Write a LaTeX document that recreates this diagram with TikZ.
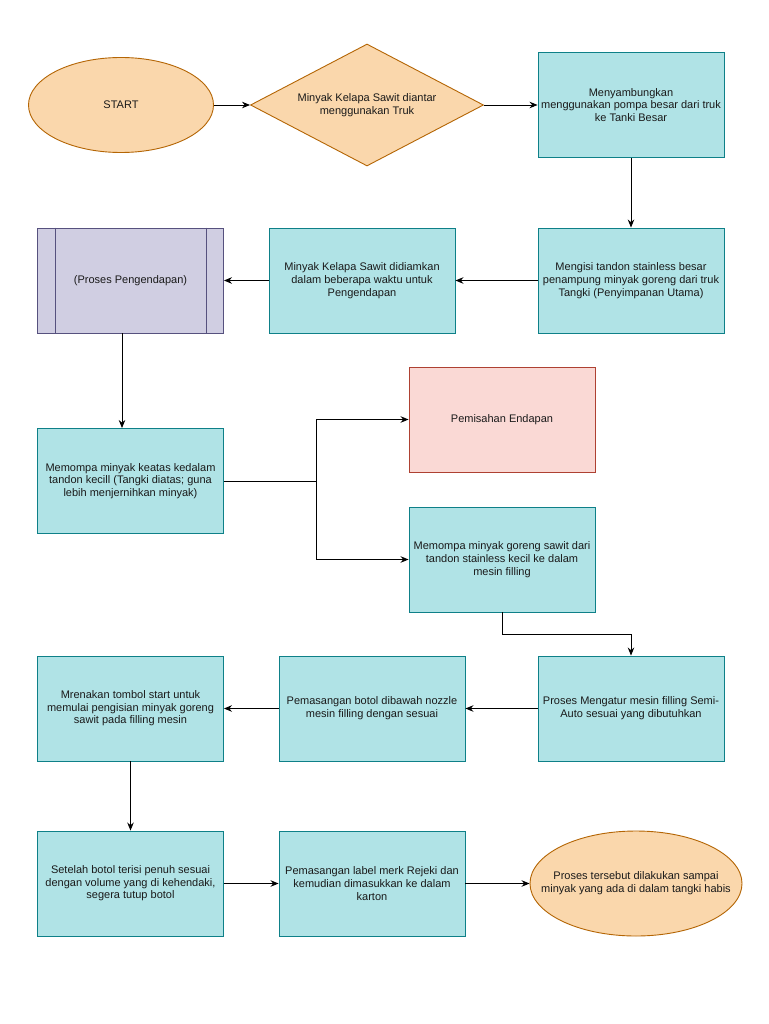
\documentclass[tikz,border=0pt]{standalone}
\usepackage{fontspec}
\setmainfont{Liberation Sans}
\usetikzlibrary{shapes.geometric,arrows.meta}
\definecolor{tealfill}{HTML}{B0E3E6}
\definecolor{tealline}{HTML}{0E8088}
\definecolor{orangefill}{HTML}{FAD7AC}
\definecolor{orangeline}{HTML}{B46504}
\definecolor{pinkfill}{HTML}{FAD9D5}
\definecolor{pinkline}{HTML}{AE4132}
\definecolor{purplefill}{HTML}{D0CEE2}
\definecolor{purpleline}{HTML}{56517E}
\definecolor{txt}{HTML}{1A1A1A}
\tikzset{
  base/.style={font=\fontsize{11}{12.8}\selectfont, text=txt, align=center, inner sep=0pt, line width=0.9pt},
  procbox/.style={base, rectangle, draw=tealline, fill=tealfill, minimum width=186pt, minimum height=105pt},
  endbox/.style={procbox, draw=pinkline, fill=pinkfill},
  subbox/.style={procbox, draw=purpleline, fill=purplefill},
  terminal/.style={base, ellipse, draw=orangeline, fill=orangefill},
  decision/.style={base, diamond, aspect=1.9, draw=orangeline, fill=orangefill, minimum width=233pt, minimum height=122pt},
  arr/.style={-{Stealth[length=8pt,width=6.5pt]}, line width=0.9pt, black}
}
\begin{document}
\begin{tikzpicture}[x=1pt,y=-1pt]
        \fill[white] (0,0) rectangle (768,1024);
        \useasboundingbox (0,0) rectangle (768,1024);
        % first row
        \node[terminal, minimum width=185pt, minimum height=95pt] (start) at (121,105) {START};
        \node[decision] (kirim) at (367,105) {Minyak Kelapa Sawit diantar\\menggunakan Truk};
        \node[procbox] (sambung) at (631,105) {Menyambungkan\\menggunakan pompa besar dari truk\\ke Tanki Besar};
        % second row
        \node[procbox] (tandon) at (631,280.5) {Mengisi tandon stainless besar\\penampung minyak goreng dari truk\\Tangki (Penyimpanan Utama)};
        \node[procbox] (diam) at (362,280.5) {Minyak Kelapa Sawit didiamkan\\dalam beberapa waktu untuk\\Pengendapan};
        \node[subbox] (endap) at (130.5,280.5) {(Proses Pengendapan)};
        \draw[purpleline, line width=0.9pt] ([xshift=18pt]endap.north west) -- ([xshift=18pt]endap.south west);
        \draw[purpleline, line width=0.9pt] ([xshift=-18pt]endap.north east) -- ([xshift=-18pt]endap.south east);
        % middle
        \node[procbox] (keatas) at (130.5,481) {Memompa minyak keatas kedalam\\tandon kecill (Tangki diatas; guna\\lebih menjernihkan minyak)};
        \node[endbox] (pisah) at (502,419.5) {Pemisahan Endapan};
        \node[procbox] (isi) at (502,559.5) {Memompa minyak goreng sawit dari\\tandon stainless kecil ke dalam\\mesin filling};
        % third row
        \node[procbox] (atur) at (631,708.5) {Proses Mengatur mesin filling Semi-\\Auto sesuai yang dibutuhkan};
        \node[procbox] (botol) at (372,708.5) {Pemasangan botol dibawah nozzle\\mesin filling dengan sesuai};
        \node[procbox] (tombol) at (130.5,708.5) {\raisebox{6pt}{\begin{tabular}{@{}c@{}}Mrenakan tombol start untuk\\memulai pengisian minyak goreng\\sawit pada filling mesin\end{tabular}}};
        % last row
        \node[procbox] (tutup) at (130.5,883.5) {\raisebox{6pt}{\begin{tabular}{@{}c@{}}Setelah botol terisi penuh sesuai\\dengan volume yang di kehendaki,\\segera tutup botol\end{tabular}}};
        \node[procbox] (label) at (372,883.5) {Pemasangan label merk Rejeki dan\\kemudian dimasukkan ke dalam\\karton};
        \node[terminal, inner xsep=-34pt, inner ysep=24pt, minimum width=212pt, minimum height=105pt] (selesai) at (636,883.5) {Proses tersebut dilakukan sampai\\minyak yang ada di dalam tangki habis};
        % connectors
        \draw[arr] (start) -- (kirim);
        \draw[arr] (kirim) -- (sambung);
        \draw[arr] (sambung) -- (tandon);
        \draw[arr] (tandon) -- (diam);
        \draw[arr] (diam) -- (endap);
        \draw[arr] ([xshift=-8.5pt]endap.south) -- ([xshift=-8.5pt]keatas.north);
        \coordinate (cabang) at (316,481);
        \draw[line width=0.9pt] (keatas.east) -- (cabang);
        \draw[arr] (cabang) |- (pisah.west);
        \draw[arr] (cabang) |- (isi.west);
        \draw[arr] (isi.south) -- ++(0,22) -| (atur.north);
        \draw[arr] (atur) -- (botol);
        \draw[arr] (botol) -- (tombol);
        \draw[arr] (tombol) -- (tutup);
        \draw[arr] (tutup) -- (label);
        \draw[arr] (label) -- (selesai);
\end{tikzpicture}
\end{document}
